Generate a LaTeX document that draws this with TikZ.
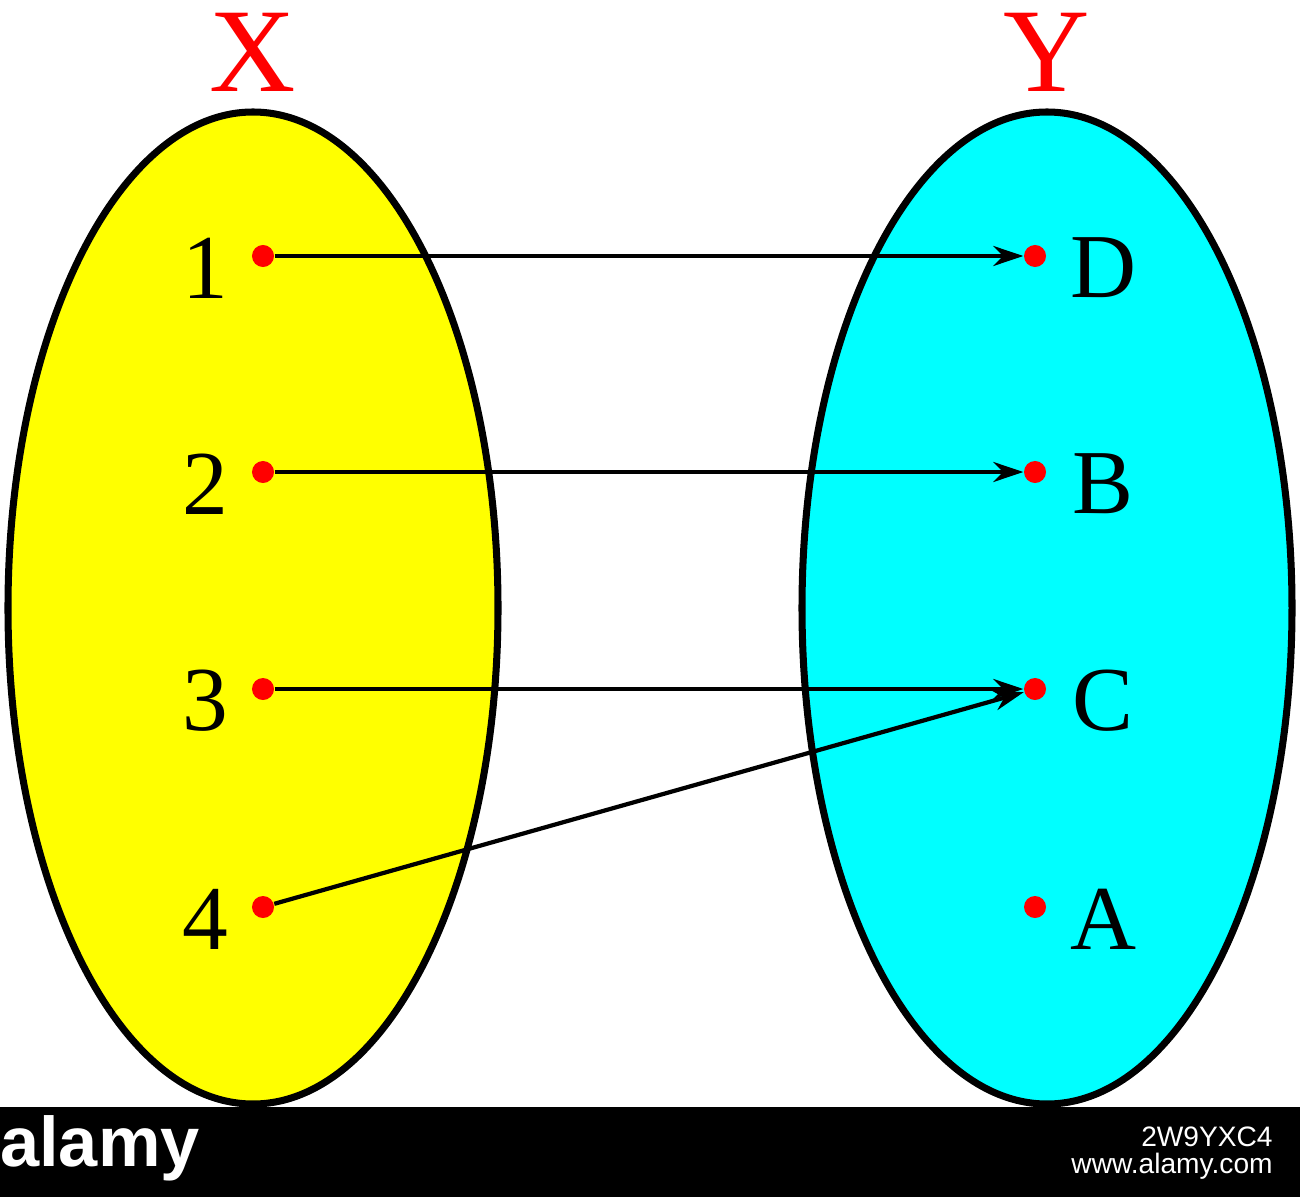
\documentclass[tikz,border=0pt]{standalone}
\usepackage{fontspec}
\setmainfont{Liberation Serif}
\setsansfont{Liberation Sans}
\usetikzlibrary{arrows.meta}
\definecolor{setX}{RGB}{255,255,0}
\definecolor{setY}{RGB}{0,255,255}
\begin{document}
\begin{tikzpicture}[x=0.01cm,y=-0.01cm,
    elt/.style={font=\fontsize{26}{26}\selectfont},
    setname/.style={text=red,font=\fontsize{34}{34}\selectfont},
    pt/.style={circle,fill=red,inner sep=0pt,minimum size=0.22cm},
    map/.style={-{Stealth[length=0.3cm,width=0.2cm]},line width=1.2pt}]
  \useasboundingbox (0,0) rectangle (1300,1197);
  % sets
  \draw[fill=setX,line width=2pt] (253,608) ellipse [x radius=245,y radius=496];
  \draw[fill=setY,line width=2pt] (1047,608) ellipse [x radius=245,y radius=496];
  \node[setname] (X) at (253,52) {X};
  \node[setname] (Y) at (1047,52) {Y};
  % domain
  \foreach \n/\yy in {1/256,2/472,3/689,4/907}{
    \node[pt] (x\n) at (263,\yy) {};
    \node[elt] at (205,\yy+12) {\n};
  }
  % codomain
  \foreach \n/\yy in {D/256,B/472,C/689,A/907}{
    \node[pt] (y\n) at (1035,\yy) {};
    \node[elt] at (1103,\yy+12) {\n};
  }
  \draw[map] (x1) -- (yD);
  \draw[map] (x2) -- (yB);
  \draw[map] (x3) -- (yC);
  \draw[map] (x4) -- (yC);
  % footer
  \fill[black] (0,1107) rectangle (1300,1197);
  \node[text=white,font=\sffamily\bfseries\fontsize{20}{20}\selectfont] (logo) at (100,1148) {alamy};
  \node[text=white,font=\sffamily\fontsize{8}{8}\selectfont,anchor=east] (id) at (1285,1137) {2W9YXC4};
  \node[text=white,font=\sffamily\fontsize{8}{8}\selectfont,anchor=east] (www) at (1285,1166) {www.alamy.com};
\end{tikzpicture}
\end{document}
